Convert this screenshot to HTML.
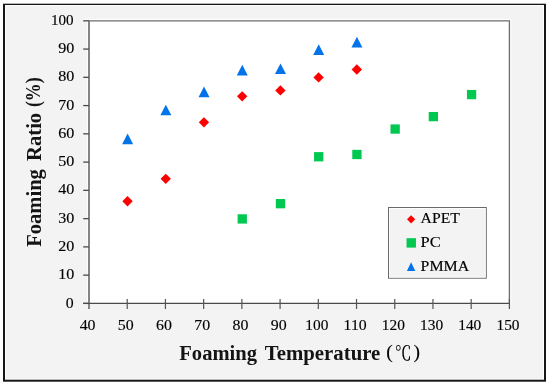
<!DOCTYPE html>
<html><head><meta charset="utf-8"><title>Foaming Ratio vs Foaming Temperature</title>
<style>
html,body{margin:0;padding:0;background:#fff;}
svg{display:block;}
text{font-family:"Liberation Serif", "Noto Serif CJK SC", serif;fill:#000;stroke:#000;stroke-width:0.15px;}
.b{font-weight:bold;stroke:none;fill:#141414;}
</style></head>
<body>
<svg width="550" height="385" viewBox="0 0 550 385">
<rect x="0" y="0" width="550" height="385" fill="#ffffff"/>
<rect x="3" y="3.7" width="543" height="378" fill="#161616"/>
<rect x="5" y="5" width="539" height="374.7" fill="#ffffff"/>
<rect x="6" y="6" width="537" height="372.7" fill="#f3f3f3"/>
<rect x="89.0" y="20.8" width="420.40" height="282.60" fill="#ffffff"/>
<path d="M83.0 19.4H510.8V302.4" fill="none" stroke="#ffffff" stroke-width="1"/>
<path d="M87.4 20.8V302.2" fill="none" stroke="#ffffff" stroke-width="0.9"/>
<path d="M89.0 20.8H509.4V303.4" fill="none" stroke="#6e6e6e" stroke-width="1.3"/>
<path d="M89.0 20.8V309.0" fill="none" stroke="#858585" stroke-width="2"/>
<path d="M83.2 303.4H509.4" fill="none" stroke="#4a4a4a" stroke-width="1.3"/>
<path d="M83.2 303.40H89.0" stroke="#4a4a4a" stroke-width="1.3"/>
<path d="M83.2 275.14H89.0" stroke="#4a4a4a" stroke-width="1.3"/>
<path d="M83.2 246.88H89.0" stroke="#4a4a4a" stroke-width="1.3"/>
<path d="M83.2 218.62H89.0" stroke="#4a4a4a" stroke-width="1.3"/>
<path d="M83.2 190.36H89.0" stroke="#4a4a4a" stroke-width="1.3"/>
<path d="M83.2 162.10H89.0" stroke="#4a4a4a" stroke-width="1.3"/>
<path d="M83.2 133.84H89.0" stroke="#4a4a4a" stroke-width="1.3"/>
<path d="M83.2 105.58H89.0" stroke="#4a4a4a" stroke-width="1.3"/>
<path d="M83.2 77.32H89.0" stroke="#4a4a4a" stroke-width="1.3"/>
<path d="M83.2 49.06H89.0" stroke="#4a4a4a" stroke-width="1.3"/>
<path d="M83.2 20.80H89.0" stroke="#4a4a4a" stroke-width="1.3"/>
<path d="M127.22 299.0V309.0" stroke="#555555" stroke-width="1.2"/>
<path d="M165.44 299.0V309.0" stroke="#555555" stroke-width="1.2"/>
<path d="M203.65 299.0V309.0" stroke="#555555" stroke-width="1.2"/>
<path d="M241.87 299.0V309.0" stroke="#555555" stroke-width="1.2"/>
<path d="M280.09 299.0V309.0" stroke="#555555" stroke-width="1.2"/>
<path d="M318.31 299.0V309.0" stroke="#555555" stroke-width="1.2"/>
<path d="M356.53 299.0V309.0" stroke="#555555" stroke-width="1.2"/>
<path d="M394.75 299.0V309.0" stroke="#555555" stroke-width="1.2"/>
<path d="M432.96 299.0V309.0" stroke="#555555" stroke-width="1.2"/>
<path d="M471.18 299.0V309.0" stroke="#555555" stroke-width="1.2"/>
<path d="M509.40 299.0V309.0" stroke="#555555" stroke-width="1.2"/>
<text x="73.7" y="307.50" text-anchor="end" font-size="15.2" textLength="7.9" lengthAdjust="spacingAndGlyphs">0</text>
<text x="74.3" y="279.24" text-anchor="end" font-size="15.2" textLength="16.1" lengthAdjust="spacingAndGlyphs">10</text>
<text x="74.3" y="250.98" text-anchor="end" font-size="15.2" textLength="16.1" lengthAdjust="spacingAndGlyphs">20</text>
<text x="74.3" y="222.72" text-anchor="end" font-size="15.2" textLength="16.1" lengthAdjust="spacingAndGlyphs">30</text>
<text x="74.3" y="194.46" text-anchor="end" font-size="15.2" textLength="16.1" lengthAdjust="spacingAndGlyphs">40</text>
<text x="74.3" y="166.20" text-anchor="end" font-size="15.2" textLength="16.1" lengthAdjust="spacingAndGlyphs">50</text>
<text x="74.3" y="137.94" text-anchor="end" font-size="15.2" textLength="16.1" lengthAdjust="spacingAndGlyphs">60</text>
<text x="74.3" y="109.68" text-anchor="end" font-size="15.2" textLength="16.1" lengthAdjust="spacingAndGlyphs">70</text>
<text x="74.3" y="81.42" text-anchor="end" font-size="15.2" textLength="16.1" lengthAdjust="spacingAndGlyphs">80</text>
<text x="74.3" y="53.16" text-anchor="end" font-size="15.2" textLength="16.1" lengthAdjust="spacingAndGlyphs">90</text>
<text x="73.6" y="24.90" text-anchor="end" font-size="15.2" textLength="22.6" lengthAdjust="spacingAndGlyphs">100</text>
<text x="87.60" y="329.7" text-anchor="middle" font-size="15.2" textLength="15.9" lengthAdjust="spacingAndGlyphs">40</text>
<text x="125.82" y="329.7" text-anchor="middle" font-size="15.2" textLength="15.9" lengthAdjust="spacingAndGlyphs">50</text>
<text x="164.04" y="329.7" text-anchor="middle" font-size="15.2" textLength="15.9" lengthAdjust="spacingAndGlyphs">60</text>
<text x="202.25" y="329.7" text-anchor="middle" font-size="15.2" textLength="15.9" lengthAdjust="spacingAndGlyphs">70</text>
<text x="240.47" y="329.7" text-anchor="middle" font-size="15.2" textLength="15.9" lengthAdjust="spacingAndGlyphs">80</text>
<text x="278.69" y="329.7" text-anchor="middle" font-size="15.2" textLength="15.9" lengthAdjust="spacingAndGlyphs">90</text>
<text x="316.91" y="329.7" text-anchor="middle" font-size="15.2" textLength="23.1" lengthAdjust="spacingAndGlyphs">100</text>
<text x="355.13" y="329.7" text-anchor="middle" font-size="15.2" textLength="23.1" lengthAdjust="spacingAndGlyphs">110</text>
<text x="393.35" y="329.7" text-anchor="middle" font-size="15.2" textLength="23.1" lengthAdjust="spacingAndGlyphs">120</text>
<text x="431.56" y="329.7" text-anchor="middle" font-size="15.2" textLength="23.1" lengthAdjust="spacingAndGlyphs">130</text>
<text x="469.78" y="329.7" text-anchor="middle" font-size="15.2" textLength="23.1" lengthAdjust="spacingAndGlyphs">140</text>
<text x="508.00" y="329.7" text-anchor="middle" font-size="15.2" textLength="23.1" lengthAdjust="spacingAndGlyphs">150</text>
<text y="360.0" font-size="19.5"><tspan x="179.3" class="b" font-size="20.2" textLength="77.65" lengthAdjust="spacingAndGlyphs">Foaming</tspan> <tspan x="264.7" class="b" font-size="20.2" textLength="115.65" lengthAdjust="spacingAndGlyphs">Temperature</tspan> <tspan x="386.3" y="357.5">(</tspan><tspan x="394.7" y="359.6" textLength="16.8" lengthAdjust="spacingAndGlyphs">℃</tspan><tspan x="413.6" y="357.5">)</tspan></text>
<text transform="translate(41.1 246.8) rotate(-90)" font-size="20.2" class="b"><tspan x="0" y="0" textLength="77.65" lengthAdjust="spacingAndGlyphs">Foaming</tspan> <tspan x="85.9" y="0" textLength="48.1" lengthAdjust="spacingAndGlyphs">Ratio</tspan> <tspan x="139.7" y="-1.5" textLength="29.7" lengthAdjust="spacingAndGlyphs">(%)</tspan></text>
<rect x="388.5" y="207.5" width="97.8" height="70.7" fill="#f3f3f3" stroke="#6a6a6a" stroke-width="1"/>
<rect x="389.6" y="208.6" width="95.6" height="68.5" fill="none" stroke="#ffffff" stroke-width="0.7"/>
<path d="M411.10 215.20L415.20 219.30L411.10 223.40L407.00 219.30Z" fill="#ff0000"/>
<rect x="406.55" y="238.20" width="9.40" height="9.40" fill="#00c850"/>
<path d="M411.10 262.30L415.30 271.10L406.90 271.10Z" fill="#0373ea"/>
<text x="420.6" y="223.3" font-size="15.3" textLength="39.3" lengthAdjust="spacingAndGlyphs">APET</text>
<text x="420.5" y="247.0" font-size="15.3" textLength="20.2" lengthAdjust="spacingAndGlyphs">PC</text>
<text x="420.6" y="270.7" font-size="15.3" textLength="48.7" lengthAdjust="spacingAndGlyphs">PMMA</text>
<path d="M127.52 196.00L132.72 201.20L127.52 206.40L122.32 201.20Z" fill="#ff0000"/>
<path d="M165.74 173.67L170.94 178.87L165.74 184.07L160.54 178.87Z" fill="#ff0000"/>
<path d="M203.95 117.15L209.15 122.35L203.95 127.55L198.75 122.35Z" fill="#ff0000"/>
<path d="M242.17 91.15L247.37 96.35L242.17 101.55L236.97 96.35Z" fill="#ff0000"/>
<path d="M280.39 85.22L285.59 90.42L280.39 95.62L275.19 90.42Z" fill="#ff0000"/>
<path d="M318.61 72.22L323.81 77.42L318.61 82.62L313.41 77.42Z" fill="#ff0000"/>
<path d="M356.83 64.31L362.03 69.51L356.83 74.71L351.63 69.51Z" fill="#ff0000"/>
<rect x="237.62" y="214.27" width="9.30" height="9.30" fill="#00c850"/>
<rect x="275.84" y="199.01" width="9.30" height="9.30" fill="#00c850"/>
<rect x="314.06" y="152.10" width="9.30" height="9.30" fill="#00c850"/>
<rect x="352.28" y="149.84" width="9.30" height="9.30" fill="#00c850"/>
<rect x="390.50" y="124.40" width="9.30" height="9.30" fill="#00c850"/>
<rect x="428.71" y="111.97" width="9.30" height="9.30" fill="#00c850"/>
<rect x="466.93" y="89.93" width="9.30" height="9.30" fill="#00c850"/>
<path d="M127.62 133.48L133.12 144.18L122.12 144.18Z" fill="#0373ea"/>
<path d="M165.84 104.65L171.34 115.35L160.34 115.35Z" fill="#0373ea"/>
<path d="M204.05 86.57L209.55 97.27L198.55 97.27Z" fill="#0373ea"/>
<path d="M242.27 64.81L247.77 75.51L236.77 75.51Z" fill="#0373ea"/>
<path d="M280.49 63.39L285.99 74.09L274.99 74.09Z" fill="#0373ea"/>
<path d="M318.71 44.18L324.21 54.88L313.21 54.88Z" fill="#0373ea"/>
<path d="M356.93 36.83L362.43 47.53L351.43 47.53Z" fill="#0373ea"/>
</svg>
</body></html>
